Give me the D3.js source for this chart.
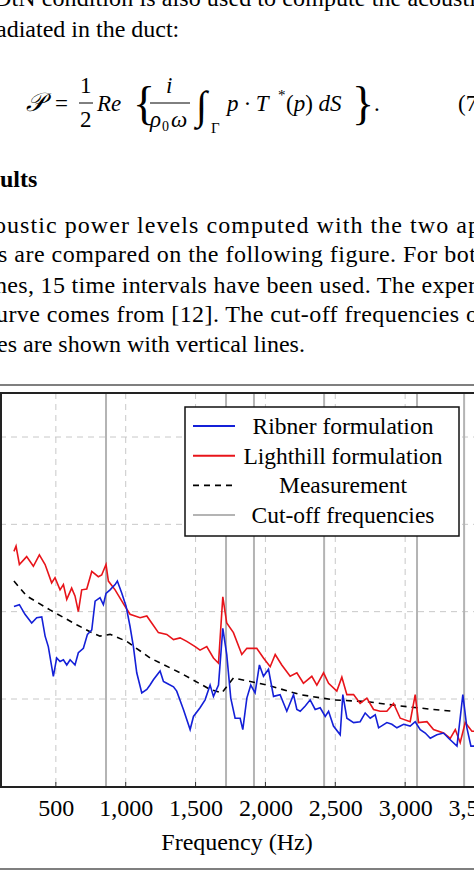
<!DOCTYPE html>
<html>
<head>
<meta charset="utf-8">
<script src="https://cdn.jsdelivr.net/npm/d3@7"></script>
<style>
  body { margin: 0; background: #fff; }
  svg { display: block; font-family: "Liberation Serif", "DejaVu Serif", serif; }
</style>
</head>
<body>
<svg id="page" width="474" height="887"></svg>
<script>
// values (frequency in Hz, level in dB)
var ribnerF = [200,239,279,327,363,399,423,446,482,506,530,554,578,602,637,661,697,726,757,781,816,840,859,888,924,940,972,1003,1031,1055,1079,1115,1151,1174,1198,1246,1270,1294,1342,1365,1413,1461,1485,1532,1568,1604,1628,1664,1695,1723,1752,1783,1819,1838,1867,1895,1926,1957,1986,2022,2058,2105,2153,2201,2225,2249,2285,2320,2356,2392,2428,2452,2487,2535,2554,2583,2631,2678,2714,2750,2786,2810,2869,2905,2941,2989,3036,3072,3108,3144,3180,3227,3275,3311,3371,3413,3442,3471,3495];
var ribnerL = [80.6,80.8,79.7,78.7,79.3,79.4,77.2,76.0,72.6,74.7,74.3,74.5,73.9,74.5,73.9,75.3,75.8,77.4,77.9,81.2,81.6,80.8,82.1,82.5,83.1,83.5,82.1,80.6,78.3,76.0,73.0,70.7,71.1,71.6,72.2,73.2,72.0,71.8,71.4,70.9,68.8,66.5,68.0,69.0,69.9,71.6,70.3,71.6,78.1,75.1,70.1,67.8,67.8,66.5,70.1,71.6,70.7,73.9,72.6,73.4,70.3,70.5,68.6,70.5,68.8,68.6,69.2,69.9,68.8,69.0,68.0,68.6,66.9,65.9,70.5,67.8,67.3,67.4,68.4,67.8,68.2,66.7,67.3,67.1,66.7,67.1,66.9,67.4,66.5,66.1,65.5,65.9,66.1,65.5,64.6,70.5,66.7,64.6,64.6];
var lightF = [200,215,239,291,339,382,423,470,494,530,554,578,613,637,661,685,721,757,804,828,859,876,924,995,1031,1103,1151,1186,1234,1294,1342,1389,1437,1497,1532,1580,1628,1664,1695,1723,1771,1831,1867,1938,1986,2034,2070,2117,2177,2225,2272,2332,2368,2416,2452,2511,2547,2583,2631,2678,2726,2774,2821,2869,2917,2965,3036,3072,3096,3156,3203,3275,3323,3359,3394,3430,3478,3495];
var lightL = [86.9,87.5,85.4,86.3,85.2,86.5,85.4,83.3,83.9,82.5,83.1,81.4,82.7,81.8,80.0,82.5,82.6,84.6,84.0,84.2,85.4,83.5,82.5,80.6,79.7,79.3,79.5,78.7,77.6,77.4,76.8,77.0,76.6,76.0,75.6,76.0,74.7,74.1,81.7,78.7,77.6,75.1,75.8,75.8,74.7,73.7,75.1,73.9,72.6,73.0,71.8,72.6,71.6,73.0,71.8,70.9,72.5,70.5,70.5,69.5,70.1,68.8,68.6,68.6,69.5,67.8,67.4,70.5,67.3,67.4,66.5,66.1,65.5,66.5,65.0,67.3,66.3,66.3];
var measF = [200,291,458,649,745,816,888,1007,1174,1389,1604,1688,1771,2010,2249,2487,2726,2965,3203,3335];
var measL = [83.5,81.8,80.2,78.5,77.7,77.2,77.4,76.6,74.7,73.0,71.1,70.7,72.4,71.6,70.5,69.9,69.7,69.2,68.8,68.6];
var cutoffs = [859, 1718, 1918, 2420, 3085, 3422];
var xTicks = [500, 1000, 1500, 2000, 2500, 3000, 3500];
var yTicks = [70, 80, 90, 100];

var svg = d3.select("#page");

// ---- surrounding page text ----
function line(txt, y, opts) {
    opts = opts || {};
    var t = svg.append("text").attr("x", opts.x || 0).attr("y", y)
        .attr("font-size", 24).text(txt);
    if (opts.bold) t.attr("font-weight", "bold");
    if (opts.len) t.attr("textLength", opts.len).attr("lengthAdjust", "spacing");
    return t;
}
line("DtN condition is also used to compute the acousti", 6, {x: -6, len: 482});
line("adiated in the duct:", 37, {x: -4});
line("ults", 187, {bold: true, x: 0});
line("oustic power levels computed with the two ap", 233, {x: -6, len: 486});
line("s are compared on the following figure.  For bot", 262, {x: -2, len: 478});
line("nes, 15 time intervals have been used. The exper", 293, {x: -5, len: 481});
line("urve comes from [12]. The cut-off frequencies o", 322, {x: -4, len: 482});
line("es are shown with vertical lines.", 352, {x: -3});

// equation
var eq = svg.append("g").attr("font-size", 23);
eq.append("text").attr("x", 26).attr("y", 111).attr("font-style", "italic").attr("font-size", 26).text("\u{1D4AB}");
eq.append("text").attr("x", 55).attr("y", 111).text("=");
eq.append("text").attr("x", 80).attr("y", 93).text("1");
eq.append("line").attr("x1", 79).attr("x2", 93).attr("y1", 103).attr("y2", 103).attr("stroke", "#000");
eq.append("text").attr("x", 80).attr("y", 127).text("2");
eq.append("text").attr("x", 97).attr("y", 111).attr("font-style", "italic").text("Re");
eq.append("text").attr("x", 133).attr("y", 119).attr("font-size", 46).attr("font-weight", 300).text("{");
eq.append("text").attr("x", 166).attr("y", 93).attr("font-style", "italic").text("i");
eq.append("line").attr("x1", 150).attr("x2", 190).attr("y1", 103).attr("y2", 103).attr("stroke", "#000");
eq.append("text").attr("x", 150).attr("y", 127).attr("font-style", "italic").text("\u03C1");
eq.append("text").attr("x", 162).attr("y", 131).attr("font-size", 14).text("0");
eq.append("text").attr("x", 171).attr("y", 127).attr("font-style", "italic").text("\u03C9");
eq.append("text").attr("x", 196).attr("y", 119).attr("font-size", 40).attr("font-style", "italic").text("\u222B");
eq.append("text").attr("x", 211).attr("y", 133).attr("font-size", 15).text("\u0393");
eq.append("text").attr("x", 227).attr("y", 111).attr("font-style", "italic").text("p \u00B7 T");
eq.append("text").attr("x", 278).attr("y", 100).attr("font-size", 15).text("*");
eq.append("text").attr("x", 286).attr("y", 111).html("(<tspan font-style='italic'>p</tspan>) <tspan font-style='italic'>dS</tspan>");
eq.append("text").attr("x", 352).attr("y", 119).attr("font-size", 46).attr("font-weight", 300).text("}");
eq.append("text").attr("x", 374).attr("y", 111).text(".");
eq.append("text").attr("x", 458).attr("y", 111).text("(7");

// page rules
svg.append("line").attr("x1", 0).attr("x2", 474).attr("y1", 385).attr("y2", 385).attr("stroke", "#555").attr("stroke-width", 1.5);
svg.append("line").attr("x1", 0).attr("x2", 474).attr("y1", 869).attr("y2", 869).attr("stroke", "#555").attr("stroke-width", 1.5);

// ---- chart ----
var plotTop = 393, plotBottom = 787, plotLeft = 0, plotRight = 520;
var x = d3.scaleLinear().domain([0, 3500]).range([-14, 475]);
var y = d3.scaleLinear().domain([70, 100]).range([699, 437]);

var chart = svg.append("g");
chart.append("defs").append("clipPath").attr("id", "plotclip")
    .append("rect").attr("x", plotLeft).attr("y", plotTop)
    .attr("width", plotRight - plotLeft).attr("height", plotBottom - plotTop);

// grid
chart.append("g").selectAll("line").data(xTicks).join("line")
    .attr("x1", x).attr("x2", x).attr("y1", plotTop).attr("y2", plotBottom)
    .attr("stroke", "#c8c8c8").attr("stroke-dasharray", "6,5").attr("stroke-width", 1);
chart.append("g").selectAll("line").data(yTicks).join("line")
    .attr("x1", plotLeft).attr("x2", plotRight).attr("y1", y).attr("y2", y)
    .attr("stroke", "#c8c8c8").attr("stroke-dasharray", "6,5").attr("stroke-width", 1);

// cut-off frequencies
chart.append("g").selectAll("line").data(cutoffs).join("line")
    .attr("x1", x).attr("x2", x).attr("y1", plotTop).attr("y2", plotBottom)
    .attr("stroke", "#b4b4b4").attr("stroke-width", 2);

var mk = function (fs, ls) {
    return d3.line().x(function (d, i) { return x(fs[i]); }).y(function (d) { return y(d); })(ls);
};
var curves = chart.append("g").attr("clip-path", "url(#plotclip)");
curves.append("path").attr("d", mk(measF, measL)).attr("fill", "none")
    .attr("stroke", "#000").attr("stroke-width", 1.6).attr("stroke-dasharray", "6,5");
curves.append("path").attr("d", mk(lightF, lightL)).attr("fill", "none")
    .attr("stroke", "#e8141a").attr("stroke-width", 1.6);
curves.append("path").attr("d", mk(ribnerF, ribnerL)).attr("fill", "none")
    .attr("stroke", "#1420d8").attr("stroke-width", 1.6);

// axis
var xAxis = d3.axisBottom(x).tickValues(xTicks).tickSize(0).tickPadding(12)
    .tickFormat(d3.format(","));
var gx = chart.append("g").attr("transform", "translate(0," + plotBottom + ")").call(xAxis);
gx.select(".domain").remove();
gx.selectAll("text").attr("font-family", "Liberation Serif, serif").attr("font-size", 24).attr("fill", "#000");
chart.append("g").selectAll("line").data(xTicks).join("line")
    .attr("x1", x).attr("x2", x).attr("y1", plotBottom - 5).attr("y2", plotBottom)
    .attr("stroke", "#333");
chart.append("rect").attr("x", plotLeft + 1).attr("y", plotTop)
    .attr("width", plotRight).attr("height", plotBottom - plotTop)
    .attr("fill", "none").attr("stroke", "#222").attr("stroke-width", 2);

chart.append("text").attr("x", 237).attr("y", 850).attr("text-anchor", "middle")
    .attr("font-size", 24).text("Frequency (Hz)");

// legend
var legendItems = [
    {name: "Ribner formulation", color: "#1420d8", dash: null},
    {name: "Lighthill formulation", color: "#e8141a", dash: null},
    {name: "Measurement", color: "#000", dash: "6,5"},
    {name: "Cut-off frequencies", color: "#b4b4b4", dash: null}
];
var lg = chart.append("g");
lg.append("rect").attr("x", 185).attr("y", 407).attr("width", 274).attr("height", 129)
    .attr("fill", "#fff").attr("stroke", "#111").attr("stroke-width", 1.5);
var rows = lg.selectAll("g.row").data(legendItems).join("g")
    .attr("transform", function (d, i) { return "translate(0," + (426 + i * 29.7) + ")"; });
rows.append("line").attr("x1", 193).attr("x2", 235).attr("y1", 0).attr("y2", 0)
    .attr("stroke", function (d) { return d.color; })
    .attr("stroke-dasharray", function (d) { return d.dash; })
    .attr("stroke-width", function (d) { return d.dash ? 1.6 : 2; });
rows.append("text").attr("x", 343).attr("y", 8).attr("text-anchor", "middle")
    .attr("font-size", 23.5).text(function (d) { return d.name; });
</script>
</body>
</html>
